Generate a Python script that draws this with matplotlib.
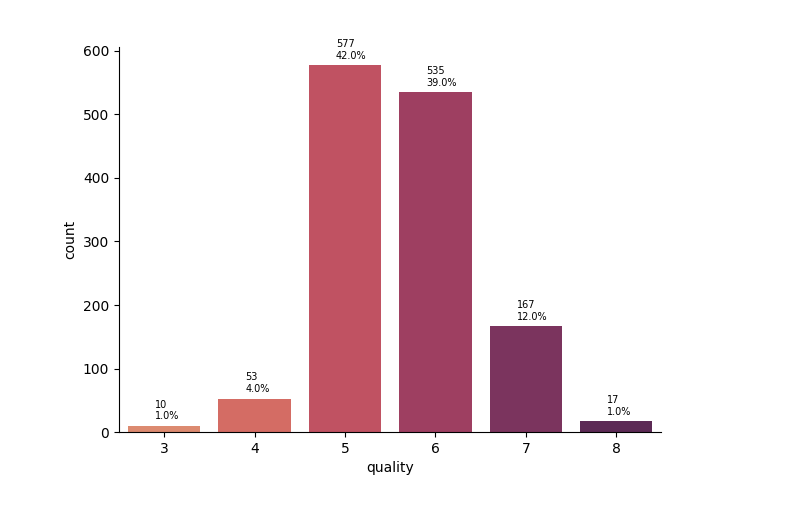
import numpy as np
import matplotlib
matplotlib.use("Agg")
import matplotlib.pyplot as plt
import seaborn as sns

quality = ["3", "4", "5", "6", "7", "8"]
counts = [10, 53, 577, 535, 167, 17]

total = sum(counts)
# colours picked off the flare-like bars
colors = ["#dc8a70", "#d46c64", "#c05262", "#9e3f61", "#7b345e", "#5c2a55"]

fig = plt.figure(figsize=(7.93, 5.17), dpi=100)
ax = fig.add_axes([0.15, 0.164, 0.684, 0.745])

bars = ax.bar(range(len(quality)), counts, width=0.8, color=colors)
ax.set_xticks(range(len(quality)))
ax.set_xticklabels(quality)
ax.set_xlim(-0.5, len(quality) - 0.5)
ax.set_xlabel("quality")
ax.set_ylabel("count")
sns.despine(ax=ax)

# count and share above every bar
for p, c in zip(bars, counts):
    pct = round(c / total * 100)
    ax.text(p.get_x() + 0.3, p.get_height() + 7, f"{c}\n{pct:.1f}%",
            fontsize=7, ha="left", va="bottom")

plt.savefig("out.png", dpi=100)
